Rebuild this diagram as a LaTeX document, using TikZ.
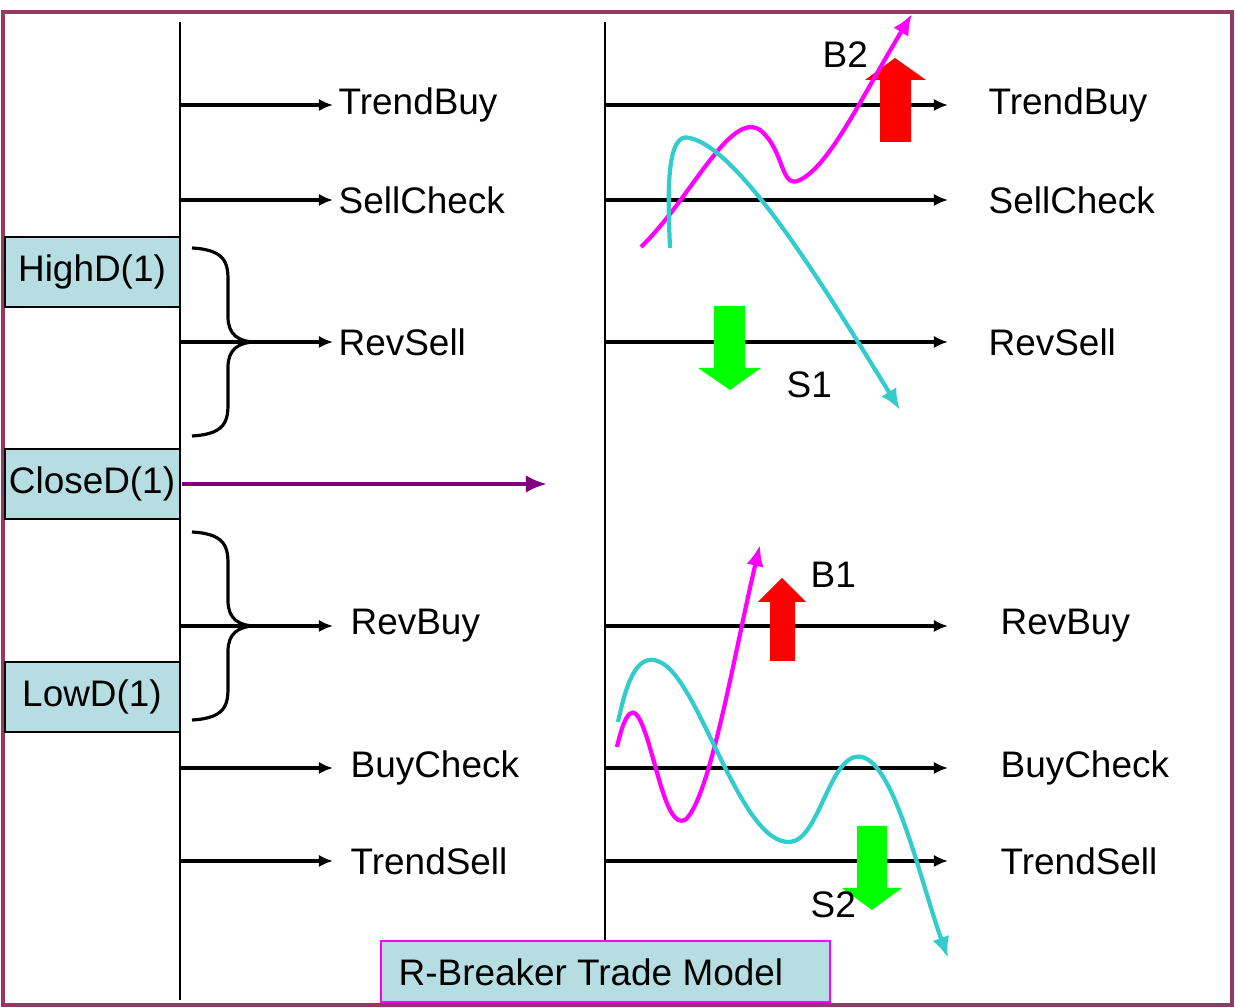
\documentclass[tikz,border=0pt]{standalone}
\usepackage{fontspec}
\setmainfont{Liberation Sans}
\usetikzlibrary{arrows.meta}
\definecolor{frame}{RGB}{150,55,100}
\definecolor{boxfill}{RGB}{182,222,226}
\definecolor{mag}{RGB}{255,0,255}
\definecolor{cy}{RGB}{51,204,204}
\definecolor{purp}{RGB}{128,0,128}
\begin{document}
\begin{tikzpicture}[x=0.01cm,y=-0.01cm,
  lvl/.style={draw=black,line width=0.9pt,-{Latex[length=4pt,width=3.5pt]}},
  lbl/.style={anchor=west,inner sep=0pt,font=\fontsize{10.5}{12}\selectfont},
  bx/.style={draw=black,fill=boxfill,line width=0.5pt},
  brc/.style={line width=0.9pt},
  crv/.style={line width=1.2pt,-{Latex[length=6pt,width=5pt]}}]
\useasboundingbox (0,0) rectangle (1235,1007);
\draw[frame,line width=1pt] (3,12) rectangle (1232,1005);
\coordinate (v1t) at (180,22); \coordinate (v1b) at (180,1000);
\coordinate (v2t) at (605,22); \coordinate (v2b) at (605,940);
\draw[line width=0.6pt] (v1t)--(v1b); \draw[line width=0.6pt] (v2t)--(v2b);
\foreach \y/\t/\lx/\rx in {105/TrendBuy/338/988,200/SellCheck/338/988,342/RevSell/338/988,626/RevBuy/350/1000,768/BuyCheck/350/1000,861/TrendSell/350/1000}{
  \coordinate (a\y) at (180,\y); \coordinate (b\y) at (333,\y);
  \coordinate (c\y) at (605,\y); \coordinate (d\y) at (948,\y);
  \draw[lvl] (a\y)--(b\y); \draw[lvl] (c\y)--(d\y);
  \node[lbl] (l\y) at (\lx,\y) {\t}; \node[lbl] (r\y) at (\rx,\y) {\t};
}
\draw[bx] (5,237) rectangle (180,307); \node[font=\fontsize{10.5}{12}\selectfont] (hd) at (92,272) {HighD(1)};
\draw[bx] (5,449) rectangle (180,519); \node[font=\fontsize{10.5}{12}\selectfont] (cd) at (92,484) {CloseD(1)};
\draw[bx] (5,662) rectangle (180,732); \node[font=\fontsize{10.5}{12}\selectfont] (ld) at (92,697) {LowD(1)};
\coordinate (cs) at (182,484); \coordinate (ce) at (547,484);
\draw[purp,line width=1.1pt,-{Latex[length=6pt,width=5pt]}] (cs)--(ce);
% braces
\foreach \c in {342,626}{
\draw[brc] (192,\c-94) .. controls (230,\c-92) and (228,\c-75) .. (228,\c-55)
  -- (228,\c-25) .. controls (228,\c-8) and (238,\c) .. (256,\c)
  .. controls (238,\c) and (228,\c+8) .. (228,\c+25)
  -- (228,\c+55) .. controls (228,\c+75) and (230,\c+92) .. (192,\c+94);
}
% title
\draw[draw=mag,fill=boxfill,line width=0.5pt] (381,941) rectangle (830,1002);
\node[lbl] (title) at (398,972) {R-Breaker Trade Model};
% block arrows
\fill[red] (880,142) -- (880,80) -- (865,80) -- (895,58) -- (926,80) -- (911,80) -- (911,142) -- cycle;
\fill[red] (770,661) -- (770,602) -- (758,602) -- (782,578) -- (806,602) -- (795,602) -- (795,661) -- cycle;
\fill[green] (714,306) -- (714,368) -- (698,368) -- (730,390) -- (761,368) -- (745,368) -- (745,306) -- cycle;
\fill[green] (857,826) -- (857,888) -- (842,888) -- (872,910) -- (902,888) -- (887,888) -- (887,826) -- cycle;
\node[lbl] (B2) at (822,55) {B2};
\node[lbl] (S1) at (786,385) {S1};
\node[lbl] (B1) at (810,575) {B1};
\node[lbl] (S2) at (810,905) {S2};
% curves
\draw[crv,mag] (641,247) .. controls (690,200) and (730,110) .. (760,130)
  .. controls (785,150) and (780,190) .. (800,180)
  .. controls (830,165) and (860,100) .. (912,14);
\draw[crv,cy] (670,248) .. controls (668,200) and (665,130) .. (690,138)
  .. controls (740,150) and (820,280) .. (900,410);
\draw[crv,mag] (617,747) .. controls (622,725) and (630,700) .. (640,720)
  .. controls (655,750) and (665,830) .. (685,820)
  .. controls (710,800) and (735,650) .. (760,545);
\draw[crv,cy] (618,722) .. controls (625,690) and (635,650) .. (660,662)
  .. controls (700,680) and (740,845) .. (790,842)
  .. controls (820,840) and (830,750) .. (862,757)
  .. controls (895,765) and (920,880) .. (948,958);
\end{tikzpicture}
\end{document}
